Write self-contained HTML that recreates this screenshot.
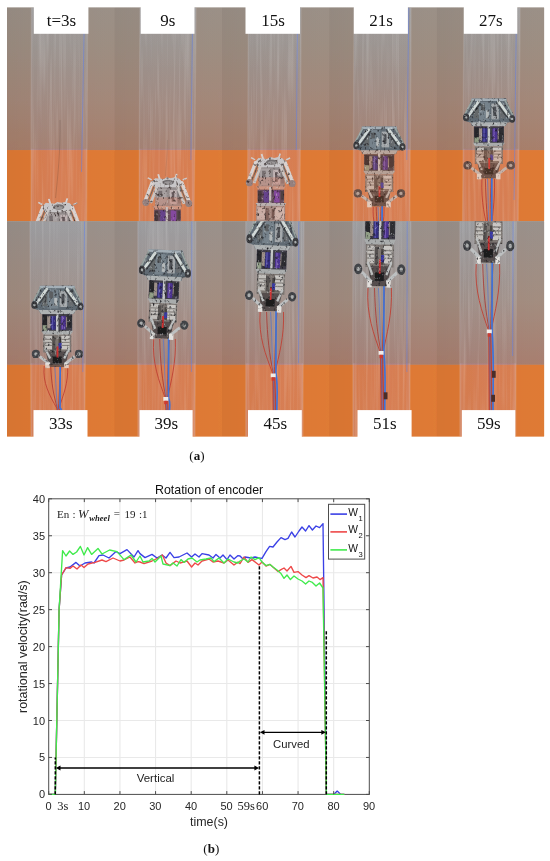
<!DOCTYPE html>
<html><head><meta charset="utf-8"><title>Figure</title>
<style>
html,body{margin:0;padding:0;background:#fff;}
svg{display:block;}
text{font-family:"Liberation Sans",sans-serif;fill:#262626;}
.lab{font-family:"Liberation Serif",serif;font-size:17px;fill:#111;}
.grid{stroke:#e9e9e9;stroke-width:1.1;}
.tk{stroke:#4d4d4d;stroke-width:1;}
.ln{fill:none;stroke-width:1.35;stroke-linejoin:round;}
.tl{font-size:11px;}
.ttl{font-size:12.4px;fill:#111;}
.axl{font-size:12.45px;}
.dsh{stroke:#000;stroke-width:1.5;stroke-dasharray:3.2 1.8;}
.ann{font-size:11.5px;fill:#222;}
.ser{font-family:"Liberation Serif",serif;font-size:12.5px;fill:#222;}
.eq{font-family:"Liberation Serif",serif;font-size:11px;fill:#222;}
.lg{font-size:10.3px;fill:#111;}
.cap{font-family:"Liberation Serif",serif;font-size:13px;fill:#111;}
</style></head>
<body>
<svg width="550" height="861" viewBox="0 0 550 861">
<defs>
<linearGradient id="bg1" x1="0" y1="0" x2="0" y2="1">
<stop offset="0" stop-color="#998e85"/><stop offset="0.26" stop-color="#9b8c80"/><stop offset="0.65" stop-color="#a28677"/><stop offset="1" stop-color="#a67d69"/></linearGradient>
<linearGradient id="bg2" x1="0" y1="0" x2="0" y2="1">
<stop offset="0" stop-color="#988f89"/><stop offset="0.12" stop-color="#9a8e87"/><stop offset="0.55" stop-color="#a18b7e"/><stop offset="0.95" stop-color="#a67e6f"/><stop offset="1" stop-color="#a77c6c"/></linearGradient>
<linearGradient id="hsh" x1="0" y1="0" x2="1" y2="0">
<stop offset="0" stop-color="#000" stop-opacity="0.035"/><stop offset="0.5" stop-color="#000" stop-opacity="0"/>
<stop offset="0.5" stop-color="#fff" stop-opacity="0"/><stop offset="1" stop-color="#fff" stop-opacity="0.02"/></linearGradient>
<linearGradient id="tubeT1" x1="0" y1="0" x2="0" y2="1">
<stop offset="0" stop-color="#a0b9d7" stop-opacity="0.24"/>
<stop offset="0.35" stop-color="#a0b9d7" stop-opacity="0.18"/>
<stop offset="0.7" stop-color="#a6b4d4" stop-opacity="0.13"/>
<stop offset="1" stop-color="#a6b4d4" stop-opacity="0.10"/></linearGradient>
<linearGradient id="tubeT2" x1="0" y1="0" x2="0" y2="1">
<stop offset="0" stop-color="#9fbad7" stop-opacity="0.26"/>
<stop offset="0.35" stop-color="#9fbad7" stop-opacity="0.19"/>
<stop offset="0.7" stop-color="#a6b4d4" stop-opacity="0.13"/>
<stop offset="1" stop-color="#a6b4d4" stop-opacity="0.10"/></linearGradient>
<linearGradient id="tubeO" x1="0" y1="0" x2="1" y2="0">
<stop offset="0" stop-color="#c8b4e0" stop-opacity="0.30"/>
<stop offset="0.08" stop-color="#b996d7" stop-opacity="0.18"/>
<stop offset="0.5" stop-color="#b996d7" stop-opacity="0.21"/>
<stop offset="0.92" stop-color="#b996d7" stop-opacity="0.18"/>
<stop offset="1" stop-color="#c8b4e0" stop-opacity="0.30"/></linearGradient>
<linearGradient id="tfade" x1="0" y1="0" x2="0" y2="1">
<stop offset="0" stop-color="#fff" stop-opacity="0.03"/><stop offset="1" stop-color="#fff" stop-opacity="0"/></linearGradient>
<filter id="soft" x="-2%" y="-2%" width="104%" height="104%"><feGaussianBlur stdDeviation="0.6"/></filter>
<filter id="tint" x="-5%" y="-5%" width="110%" height="110%" color-interpolation-filters="sRGB">
<feFlood flood-color="#e27a48" result="f"/><feComposite in="f" in2="SourceAlpha" operator="in"/></filter>
<clipPath id="oz1"><rect x="0" y="150.2" width="550" height="71.0"/></clipPath>
<clipPath id="oz2"><rect x="0" y="364.8" width="550" height="71.7"/></clipPath>
<filter id="streak" x="0" y="0" width="100%" height="100%" color-interpolation-filters="sRGB">
<feTurbulence type="fractalNoise" baseFrequency="0.38 0.010" numOctaves="2" seed="5" result="n"/>
<feColorMatrix in="n" type="matrix" values="0 0 0 0 1  0 0 0 0 1  0 0 0 0 1  2.2 0 0 0 -0.95" result="a"/>
<feComposite in="a" in2="SourceGraphic" operator="in"/>
</filter>
<filter id="mott" x="-5%" y="-5%" width="110%" height="110%" color-interpolation-filters="sRGB">
<feTurbulence type="fractalNoise" baseFrequency="0.42 0.30" numOctaves="2" seed="11" result="n"/>
<feColorMatrix in="n" type="matrix" values="0 0 0 0 0  0 0 0 0 0  0 0 0 0 0  3.0 0 0 0 -1.70" result="a1"/>
<feFlood flood-color="#17171b" result="dk"/>
<feComposite in="dk" in2="a1" operator="in" result="s1"/>
<feComposite in="s1" in2="SourceGraphic" operator="in" result="s1i"/>
<feColorMatrix in="n" type="matrix" values="0 0 0 0 0  0 0 0 0 0  0 0 0 0 0  0 3.0 0 0 -1.95" result="a2"/>
<feFlood flood-color="#cfd4d6" result="lt"/>
<feComposite in="lt" in2="a2" operator="in" result="s2"/>
<feComposite in="s2" in2="SourceGraphic" operator="in" result="s2i"/>
<feMerge><feMergeNode in="SourceGraphic"/><feMergeNode in="s1i"/><feMergeNode in="s2i"/></feMerge>
</filter>
<g id="robotB">
<polygon points="-17,0 17,0 19.5,7 25,17 25,23 18,24.5 17,27.5 -17,27.5 -18,24.5 -25,22 -25,16 -19.5,7" fill="#606b73"/>
<rect x="-17.5" y="0" width="35" height="2.4" fill="#a3aeb6"/>
<rect x="-10" y="3.5" width="11" height="19" fill="#76828b"/>
<rect x="-8" y="6" width="4" height="6" fill="#5b5f62"/>
<rect x="-3" y="12" width="3" height="8" fill="#b4b9ba"/>
<rect x="2.5" y="5" width="7.5" height="16" fill="#a4a8ab"/>
<rect x="4.3" y="8" width="3" height="9.5" fill="#4d5054"/>
<rect x="11" y="6" width="5" height="14" fill="#686c6f"/>
<rect x="-15" y="9" width="5" height="11" fill="#65696b"/>
<line x1="-10.5" y1="3.2" x2="-20.8" y2="17.8" stroke="#d2d9d7" stroke-width="2.7" stroke-linecap="round"/><line x1="-16.5" y1="1.5" x2="-23.5" y2="15" stroke="#98a3a0" stroke-width="1.6"/>
<line x1="9.6" y1="3" x2="21.2" y2="19" stroke="#d2d9d7" stroke-width="2.7" stroke-linecap="round"/><line x1="16" y1="1.5" x2="23.8" y2="16.5" stroke="#98a3a0" stroke-width="1.6"/>
<line x1="-8.3" y1="4.2" x2="-18.4" y2="18.6" stroke="#3d4144" stroke-width="1.3"/>
<line x1="7.4" y1="4" x2="18.8" y2="19.8" stroke="#3d4144" stroke-width="1.3"/>
<ellipse cx="-22.8" cy="19" rx="3.1" ry="3.8" fill="#3c3d41"/><ellipse cx="23.2" cy="20.5" rx="3.1" ry="3.8" fill="#3c3d41"/>
<circle cx="-22.8" cy="19" r="1.2" fill="#a9adad"/><circle cx="23.2" cy="20.5" r="1.2" fill="#a9adad"/>
<polygon points="-18.5,24 18.5,24 16,28 -16,28" fill="#aeb2b3"/>
<rect x="-15" y="28" width="30" height="17.5" fill="#3f3e48"/>
<rect x="-14.5" y="29" width="4.5" height="13" fill="#26262a"/>
<rect x="-10" y="30" width="3.2" height="12" fill="#9c8f88"/><rect x="-1.2" y="30" width="0" height="0"/><rect x="8.6" y="31" width="1.4" height="10" fill="#8d817b"/>
<rect x="-6.5" y="30" width="5" height="13.5" fill="#352f80"/>
<rect x="-5.5" y="30" width="1.4" height="13.5" fill="#5a53a8"/>
<rect x="3.5" y="30" width="5" height="13.5" fill="#4c3290"/>
<rect x="4.5" y="30" width="1.4" height="13.5" fill="#7458b0"/>
<rect x="10" y="29.5" width="4.5" height="12" fill="#2e2e33"/>
<rect x="-14.5" y="39" width="4.5" height="5.5" fill="#8f9c84"/>
<rect x="-1.2" y="27" width="2.4" height="42" fill="#c4c6c7"/>
<polygon points="-16,44.5 16,44.5 13.5,48.5 -13.5,48.5" fill="#a9acac"/>
<rect x="-14" y="48.5" width="28" height="17.5" fill="#7b7571"/>
<rect x="-12.5" y="49.5" width="7.5" height="13.5" fill="#c2bfbb"/>
<rect x="4" y="49.5" width="8.5" height="13.5" fill="#c9c6c2"/>
<rect x="-5" y="50.5" width="3.2" height="13" fill="#55514f"/>
<rect x="1.4" y="52" width="2.6" height="12" fill="#494543"/>
<rect x="1.4" y="56.5" width="3" height="5.5" fill="#3a3aa5"/>
<rect x="-12.5" y="52.5" width="7.5" height="1.1" fill="#87837f"/><rect x="-12.5" y="55.5" width="7.5" height="1.1" fill="#87837f"/><rect x="-12.5" y="58.5" width="7.5" height="1.1" fill="#87837f"/><rect x="4" y="52.5" width="8.5" height="1.1" fill="#87837f"/><rect x="4" y="55.5" width="8.5" height="1.1" fill="#87837f"/><rect x="4" y="58.5" width="8.5" height="1.1" fill="#87837f"/>
<polygon points="-11.5,65 11.5,65 8,80.5 -8,80.5" fill="#544e4d"/>
<line x1="-17.5" y1="70" x2="-7.5" y2="77.5" stroke="#bdc0c1" stroke-width="2.8"/>
<line x1="17.5" y1="70" x2="7.5" y2="77.5" stroke="#bdc0c1" stroke-width="2.8"/>
<line x1="-12" y1="62" x2="-7" y2="72" stroke="#bcbfbf" stroke-width="2.2"/>
<line x1="12" y1="62" x2="7" y2="72" stroke="#bcbfbf" stroke-width="2.2"/>
<circle cx="-21.3" cy="67.5" r="4.1" fill="#434448"/><circle cx="21.8" cy="67.5" r="4.1" fill="#434448"/>
<circle cx="-21.3" cy="67.5" r="1.7" fill="#a9acac"/><circle cx="21.8" cy="67.5" r="1.7" fill="#a9acac"/>
<rect x="-4.5" y="70" width="9" height="6.5" fill="#1c1c1f"/>
<rect x="-0.6" y="60" width="1.8" height="11" fill="#cf3030"/>
<rect x="-12" y="76" width="4.5" height="5.5" fill="#e2e0dd"/><rect x="7" y="76" width="4.5" height="5.5" fill="#e2e0dd"/>
</g>
<g id="robotA">
<line x1="-8.5" y1="-4.5" x2="-6.5" y2="3" stroke="#d6dde2" stroke-width="1.8"/>
<line x1="10" y1="-5" x2="8" y2="3" stroke="#d6dde2" stroke-width="1.8"/>
<line x1="-15" y1="2" x2="-19" y2="-0.5" stroke="#cfd6db" stroke-width="1.6"/>
<line x1="16" y1="2" x2="20" y2="0" stroke="#cfd6db" stroke-width="1.6"/>
<polygon points="-16,5.5 -11.5,0 -3,1 0,-1 4,0 8,-1 12.5,0.5 17,5.5 12,11.5 -11,11.5" fill="#c6d0d7"/>
<ellipse cx="1.5" cy="4.8" rx="5.6" ry="3.1" fill="#666e75"/>
<ellipse cx="1.5" cy="5.5" rx="3.9" ry="1.9" fill="#929aa1"/>
<rect x="-11.5" y="10.5" width="26" height="23" fill="#8a8e94"/>
<rect x="-10" y="12" width="10" height="19" fill="#a2a6ac"/>
<rect x="-8" y="14.5" width="3.5" height="7" fill="#6a6e74"/>
<rect x="3" y="13.5" width="7" height="16.5" fill="#bcbac0"/>
<rect x="5" y="16" width="2.6" height="11" fill="#57555d"/>
<rect x="11" y="12" width="3" height="17" fill="#73777d"/>
<line x1="-14.5" y1="5" x2="-21.5" y2="26" stroke="#d8dde0" stroke-width="3.4" stroke-linecap="round"/>
<line x1="-9.5" y1="9" x2="-16" y2="28.5" stroke="#c8cdd0" stroke-width="2.8"/>
<line x1="15" y1="5" x2="22.5" y2="27" stroke="#d8dde0" stroke-width="3.4" stroke-linecap="round"/>
<line x1="10.5" y1="9" x2="17.5" y2="29.5" stroke="#c8cdd0" stroke-width="2.8"/>
<line x1="-12" y1="7.5" x2="-18.8" y2="27" stroke="#596064" stroke-width="1"/>
<line x1="12.8" y1="7.5" x2="20" y2="28" stroke="#596064" stroke-width="1"/>
<ellipse cx="-20.8" cy="28" rx="3.5" ry="4" fill="#8d8285"/><ellipse cx="22" cy="29" rx="3.5" ry="4" fill="#8d8285"/>
<rect x="-11.5" y="22" width="26" height="11.5" fill="#d07a60" opacity="0.33"/><polygon points="-14,32 15.5,32 13.5,36 -12,36" fill="#c99888"/>
<rect x="-12.5" y="36" width="26.5" height="15.5" fill="#57475f"/>
<rect x="-6.5" y="37" width="5.5" height="13.5" fill="#573d94"/>
<rect x="4" y="37" width="5.5" height="13.5" fill="#7b46aa"/>
<rect x="-1" y="33" width="2.2" height="41" fill="#c6c6ca"/>
<rect x="-12" y="37.5" width="3.5" height="11.5" fill="#37333c"/>
<rect x="10.8" y="37.5" width="2.8" height="10" fill="#3d3943"/>
<polygon points="-14.5,51 16,51 14.5,54.5 -13,54.5" fill="#b6b6ba"/>
<rect x="-14" y="54.5" width="29" height="20" fill="#98969a"/>
<rect x="-13" y="56" width="8" height="14" fill="#c6c5c7"/>
<rect x="5" y="56" width="9" height="14" fill="#cccbce"/>
<rect x="-4.5" y="57" width="3.2" height="14" fill="#59555a"/>
<rect x="1.6" y="58" width="2.6" height="12" fill="#4f4b50"/>
<rect x="-14" y="54.5" width="29" height="20" fill="#d07a60" opacity="0.22"/>
</g>
<clipPath id="cp10"><rect x="7.0" y="7.5" width="107.7" height="213.7"/></clipPath>
<clipPath id="cp11"><rect x="114.4" y="7.5" width="107.7" height="213.7"/></clipPath>
<clipPath id="cp12"><rect x="221.8" y="7.5" width="107.7" height="213.7"/></clipPath>
<clipPath id="cp13"><rect x="329.2" y="7.5" width="107.7" height="213.7"/></clipPath>
<clipPath id="cp14"><rect x="436.6" y="7.5" width="107.7" height="213.7"/></clipPath>
<clipPath id="cp20"><rect x="7.0" y="221.2" width="107.7" height="215.3"/></clipPath>
<clipPath id="cp21"><rect x="114.4" y="221.2" width="107.7" height="215.3"/></clipPath>
<clipPath id="cp22"><rect x="221.8" y="221.2" width="107.7" height="215.3"/></clipPath>
<clipPath id="cp23"><rect x="329.2" y="221.2" width="107.7" height="215.3"/></clipPath>
<clipPath id="cp24"><rect x="436.6" y="221.2" width="107.7" height="215.3"/></clipPath>
</defs>
<rect width="550" height="861" fill="#fff"/>
<g filter="url(#soft)">
<rect x="7.0" y="7.5" width="537.0" height="142.7" fill="url(#bg1)"/>
<rect x="7.0" y="150.2" width="537.0" height="71.0" fill="#de7832"/>
<rect x="7.0" y="221.2" width="537.0" height="143.6" fill="url(#bg2)"/>
<rect x="7.0" y="364.8" width="537.0" height="71.7" fill="#de7832"/>
<g clip-path="url(#cp10)">
<rect x="7.0" y="7.5" width="107.9" height="142.7" fill="url(#bg1)"/>
<rect x="7.0" y="150.2" width="107.9" height="71.0" fill="#de7832"/>
<rect x="7.0" y="7.5" width="107.9" height="213.7" fill="url(#hsh)"/>
<polygon points="31.5,7.5 87.5,7.5 86.8,148.7 31.2,148.7" fill="url(#tubeT1)"/>
<polygon points="31.5,7.5 87.5,7.5 87.2,77.5 31.3,77.5" fill="url(#tfade)"/>
<polygon points="31.2,148.7 86.8,148.7 86.5,221.2 31.0,221.2" fill="url(#tubeO)"/>
<polygon points="32.5,7.5 86.5,7.5 85.8,148.7 32.2,148.7" fill="#fff" filter="url(#streak)" opacity="0.16"/>
<polygon points="32.2,148.7 85.8,148.7 85.5,221.2 32.0,221.2" fill="#fff" filter="url(#streak)" opacity="0.16"/>
<line x1="31.5" y1="7.5" x2="31.0" y2="221.2" stroke="#e8e8f0" stroke-opacity="0.14" stroke-width="1.4"/>
<line x1="87.5" y1="7.5" x2="86.5" y2="221.2" stroke="#e8e8f0" stroke-opacity="0.14" stroke-width="1.6"/>
<line x1="84.5" y1="7.5" x2="81.5" y2="172.0" stroke="#6480e4" stroke-opacity="0.62" stroke-width="0.9"/>
<g filter="url(#mott)"><use href="#robotA" transform="translate(57.3,202.8) rotate(0) scale(1,0.88)"/></g>
<g clip-path="url(#oz1)"><g filter="url(#tint)" opacity="0.1"><use href="#robotA" transform="translate(57.3,202.8) rotate(0) scale(1,0.88)"/></g></g>
<polygon points="31.5,7.5 87.5,7.5 86.5,221.2 31.0,221.2" fill="#e8e4e4" opacity="0.0"/>
</g>
<g clip-path="url(#cp11)">
<rect x="114.4" y="7.5" width="107.9" height="142.7" fill="url(#bg1)"/>
<rect x="114.4" y="150.2" width="107.9" height="71.0" fill="#de7832"/>
<rect x="114.4" y="7.5" width="107.9" height="213.7" fill="url(#hsh)"/>
<polygon points="140.0,7.5 196.0,7.5 194.6,148.7 139.3,148.7" fill="url(#tubeT1)"/>
<polygon points="140.0,7.5 196.0,7.5 195.3,77.5 139.7,77.5" fill="url(#tfade)"/>
<polygon points="139.3,148.7 194.6,148.7 193.9,221.2 139.0,221.2" fill="url(#tubeO)"/>
<polygon points="141.0,7.5 195.0,7.5 193.6,148.7 140.3,148.7" fill="#fff" filter="url(#streak)" opacity="0.16"/>
<polygon points="140.3,148.7 193.6,148.7 192.9,221.2 140.0,221.2" fill="#fff" filter="url(#streak)" opacity="0.16"/>
<line x1="140.0" y1="7.5" x2="139.0" y2="221.2" stroke="#e8e8f0" stroke-opacity="0.14" stroke-width="1.4"/>
<line x1="196.0" y1="7.5" x2="193.9" y2="221.2" stroke="#e8e8f0" stroke-opacity="0.14" stroke-width="1.6"/>
<line x1="192.7" y1="7.5" x2="190.9" y2="160.0" stroke="#6480e4" stroke-opacity="0.62" stroke-width="0.9"/>
<g filter="url(#mott)"><use href="#robotA" transform="translate(166.7,178.2) rotate(0) scale(1,0.87)"/></g>
<g clip-path="url(#oz1)"><g filter="url(#tint)" opacity="0.1"><use href="#robotA" transform="translate(166.7,178.2) rotate(0) scale(1,0.87)"/></g></g>
<polygon points="140.0,7.5 196.0,7.5 193.9,221.2 139.0,221.2" fill="#e8e4e4" opacity="0.0"/>
</g>
<g clip-path="url(#cp12)">
<rect x="221.8" y="7.5" width="107.9" height="142.7" fill="url(#bg1)"/>
<rect x="221.8" y="150.2" width="107.9" height="71.0" fill="#de7832"/>
<rect x="221.8" y="7.5" width="107.9" height="213.7" fill="url(#hsh)"/>
<polygon points="248.5,7.5 301.0,7.5 300.2,148.7 247.8,148.7" fill="url(#tubeT1)"/>
<polygon points="248.5,7.5 301.0,7.5 300.6,77.5 248.2,77.5" fill="url(#tfade)"/>
<polygon points="247.8,148.7 300.2,148.7 299.8,221.2 247.5,221.2" fill="url(#tubeO)"/>
<polygon points="249.5,7.5 300.0,7.5 299.2,148.7 248.8,148.7" fill="#fff" filter="url(#streak)" opacity="0.16"/>
<polygon points="248.8,148.7 299.2,148.7 298.8,221.2 248.5,221.2" fill="#fff" filter="url(#streak)" opacity="0.16"/>
<line x1="248.5" y1="7.5" x2="247.5" y2="221.2" stroke="#e8e8f0" stroke-opacity="0.14" stroke-width="1.4"/>
<line x1="301.0" y1="7.5" x2="299.8" y2="221.2" stroke="#e8e8f0" stroke-opacity="0.14" stroke-width="1.6"/>
<line x1="297.6" y1="7.5" x2="296.3" y2="150.0" stroke="#6480e4" stroke-opacity="0.62" stroke-width="0.9"/>
<g filter="url(#mott)"><use href="#robotA" transform="translate(270.1,158.0) rotate(0) scale(1,0.88)"/></g>
<g clip-path="url(#oz1)"><g filter="url(#tint)" opacity="0.1"><use href="#robotA" transform="translate(270.1,158.0) rotate(0) scale(1,0.88)"/></g></g>
<polygon points="248.5,7.5 301.0,7.5 299.8,221.2 247.5,221.2" fill="#e8e4e4" opacity="0.0"/>
</g>
<g clip-path="url(#cp13)">
<rect x="329.2" y="7.5" width="107.9" height="142.7" fill="url(#bg1)"/>
<rect x="329.2" y="150.2" width="107.9" height="71.0" fill="#de7832"/>
<rect x="329.2" y="7.5" width="107.9" height="213.7" fill="url(#hsh)"/>
<polygon points="354.0,7.5 411.0,7.5 410.1,148.7 353.5,148.7" fill="url(#tubeT1)"/>
<polygon points="354.0,7.5 411.0,7.5 410.6,77.5 353.7,77.5" fill="url(#tfade)"/>
<polygon points="353.5,148.7 410.1,148.7 409.7,221.2 353.2,221.2" fill="url(#tubeO)"/>
<polygon points="355.0,7.5 410.0,7.5 409.1,148.7 354.5,148.7" fill="#fff" filter="url(#streak)" opacity="0.16"/>
<polygon points="354.5,148.7 409.1,148.7 408.7,221.2 354.2,221.2" fill="#fff" filter="url(#streak)" opacity="0.16"/>
<line x1="354.0" y1="7.5" x2="353.2" y2="221.2" stroke="#e8e8f0" stroke-opacity="0.14" stroke-width="1.4"/>
<line x1="411.0" y1="7.5" x2="409.7" y2="221.2" stroke="#e8e8f0" stroke-opacity="0.14" stroke-width="1.6"/>
<line x1="408.8" y1="7.5" x2="406.8" y2="160.0" stroke="#6480e4" stroke-opacity="0.62" stroke-width="0.9"/>
<path d="M373.2,207.0 C372.3,220.2 375.9,230.8 379.4,240.0 L380.1,250.0" stroke="#bf4034" stroke-width="1.0" fill="none" stroke-opacity="0.9"/>
<path d="M376.2,207.0 C376.5,220.2 377.6,230.8 379.7,240.0 L380.4,250.0" stroke="#a93630" stroke-width="0.9" fill="none" stroke-opacity="0.9"/>
<path d="M384.0,207.0 C384.5,220.2 381.8,230.8 380.5,240.0 L381.4,250.0" stroke="#bf4034" stroke-width="1.0" fill="none" stroke-opacity="0.9"/>
<path d="M381.0,207.0 C380.3,220.2 380.2,230.8 380.2,240.0 L381.0,250.0" stroke="#a93630" stroke-width="0.8" fill="none" stroke-opacity="0.9"/>
<path d="M378.0,207.0 C378.8,220.2 378.5,230.8 379.9,240.0 L380.7,250.0" stroke="#5a78c8" stroke-width="0.8" fill="none" stroke-opacity="0.9"/>
<path d="M382.2,195.0 L382.0,240.0 C384.4,243.5 382.7,247.0 383.0,250.0" stroke="#3d72d8" stroke-width="1.7" fill="none"/>
<g filter="url(#mott)"><use href="#robotB" transform="translate(379.2,126.6) rotate(0) scale(1,0.99)"/></g>
<g clip-path="url(#oz1)"><g filter="url(#tint)" opacity="0.22"><use href="#robotB" transform="translate(379.2,126.6) rotate(0) scale(1,0.99)"/></g></g>
<polygon points="354.0,7.5 411.0,7.5 409.7,221.2 353.2,221.2" fill="#e8e4e4" opacity="0.0"/>
</g>
<g clip-path="url(#cp14)">
<rect x="436.6" y="7.5" width="107.9" height="142.7" fill="url(#bg1)"/>
<rect x="436.6" y="150.2" width="107.9" height="71.0" fill="#de7832"/>
<rect x="436.6" y="7.5" width="107.9" height="213.7" fill="url(#hsh)"/>
<polygon points="464.0,7.5 520.0,7.5 518.7,148.7 463.1,148.7" fill="url(#tubeT1)"/>
<polygon points="464.0,7.5 520.0,7.5 519.4,77.5 463.5,77.5" fill="url(#tfade)"/>
<polygon points="463.1,148.7 518.7,148.7 518.1,221.2 462.6,221.2" fill="url(#tubeO)"/>
<polygon points="465.0,7.5 519.0,7.5 517.7,148.7 464.1,148.7" fill="#fff" filter="url(#streak)" opacity="0.16"/>
<polygon points="464.1,148.7 517.7,148.7 517.1,221.2 463.6,221.2" fill="#fff" filter="url(#streak)" opacity="0.16"/>
<line x1="464.0" y1="7.5" x2="462.6" y2="221.2" stroke="#e8e8f0" stroke-opacity="0.14" stroke-width="1.4"/>
<line x1="520.0" y1="7.5" x2="518.1" y2="221.2" stroke="#e8e8f0" stroke-opacity="0.14" stroke-width="1.6"/>
<line x1="516.5" y1="7.5" x2="514.1" y2="200.0" stroke="#6480e4" stroke-opacity="0.62" stroke-width="0.9"/>
<path d="M481.9,179.0 C480.9,201.4 485.1,219.3 489.0,235.0 L489.7,250.0" stroke="#bf4034" stroke-width="1.0" fill="none" stroke-opacity="0.9"/>
<path d="M485.4,179.0 C485.8,201.4 487.0,219.3 489.4,235.0 L490.1,250.0" stroke="#a93630" stroke-width="0.9" fill="none" stroke-opacity="0.9"/>
<path d="M494.5,179.0 C495.1,201.4 492.0,219.3 490.3,235.0 L491.2,250.0" stroke="#bf4034" stroke-width="1.0" fill="none" stroke-opacity="0.9"/>
<path d="M491.0,179.0 C490.2,201.4 490.1,219.3 489.9,235.0 L490.8,250.0" stroke="#a93630" stroke-width="0.8" fill="none" stroke-opacity="0.9"/>
<path d="M487.5,179.0 C488.5,201.4 488.1,219.3 489.6,235.0 L490.3,250.0" stroke="#5a78c8" stroke-width="0.8" fill="none" stroke-opacity="0.9"/>
<path d="M491.9,167.0 L491.7,235.0 C494.1,240.2 492.4,245.5 492.7,250.0" stroke="#3d72d8" stroke-width="1.7" fill="none"/>
<g filter="url(#mott)"><use href="#robotB" transform="translate(488.9,98.6) rotate(0) scale(1,0.99)"/></g>
<g clip-path="url(#oz1)"><g filter="url(#tint)" opacity="0.22"><use href="#robotB" transform="translate(488.9,98.6) rotate(0) scale(1,0.99)"/></g></g>
<polygon points="464.0,7.5 520.0,7.5 518.1,221.2 462.6,221.2" fill="#e8e4e4" opacity="0.0"/>
</g>
<g clip-path="url(#cp20)">
<rect x="7.0" y="221.2" width="107.9" height="143.6" fill="url(#bg2)"/>
<rect x="7.0" y="364.8" width="107.9" height="71.7" fill="#de7832"/>
<rect x="7.0" y="221.2" width="107.9" height="215.3" fill="url(#hsh)"/>
<polygon points="30.0,221.2 86.5,221.2 85.2,363.3 30.7,363.3" fill="url(#tubeT2)"/>
<polygon points="30.0,221.2 86.5,221.2 85.8,291.2 30.3,291.2" fill="url(#tfade)"/>
<polygon points="30.7,363.3 85.2,363.3 84.5,436.5 31.0,436.5" fill="url(#tubeO)"/>
<polygon points="31.0,221.2 85.5,221.2 84.2,363.3 31.7,363.3" fill="#fff" filter="url(#streak)" opacity="0.16"/>
<polygon points="31.7,363.3 84.2,363.3 83.5,436.5 32.0,436.5" fill="#fff" filter="url(#streak)" opacity="0.16"/>
<line x1="30.0" y1="221.2" x2="31.0" y2="436.5" stroke="#e8e8f0" stroke-opacity="0.14" stroke-width="1.4"/>
<line x1="86.5" y1="221.2" x2="84.5" y2="436.5" stroke="#e8e8f0" stroke-opacity="0.14" stroke-width="1.6"/>
<line x1="84.6" y1="221.2" x2="82.8" y2="372.0" stroke="#6480e4" stroke-opacity="0.62" stroke-width="0.9"/>
<path d="M44.2,366.0 C42.2,382.8 50.1,396.2 56.7,408.0 L57.2,412.0" stroke="#bf4034" stroke-width="1.0" fill="none" stroke-opacity="0.9"/>
<path d="M50.7,366.0 C51.4,382.8 53.6,396.2 57.4,408.0 L58.0,412.0" stroke="#a93630" stroke-width="0.9" fill="none" stroke-opacity="0.9"/>
<path d="M67.6,366.0 C68.6,382.8 62.9,396.2 59.0,408.0 L60.0,412.0" stroke="#bf4034" stroke-width="1.0" fill="none" stroke-opacity="0.9"/>
<path d="M61.1,366.0 C59.5,382.8 59.3,396.2 58.4,408.0 L59.3,412.0" stroke="#a93630" stroke-width="0.8" fill="none" stroke-opacity="0.9"/>
<path d="M54.6,366.0 C56.4,382.8 55.8,396.2 57.7,408.0 L58.5,412.0" stroke="#5a78c8" stroke-width="0.8" fill="none" stroke-opacity="0.9"/>
<path d="M60.2,354.0 L60.0,408.0 C62.4,409.4 60.7,410.8 61.0,412.0" stroke="#3d72d8" stroke-width="1.7" fill="none"/>
<g filter="url(#mott)"><use href="#robotB" transform="translate(57.2,285.8) rotate(0) scale(1,1.01)"/></g>
<g clip-path="url(#oz2)"><g filter="url(#tint)" opacity="0.22"><use href="#robotB" transform="translate(57.2,285.8) rotate(0) scale(1,1.01)"/></g></g>
<polygon points="30.0,221.2 86.5,221.2 84.5,436.5 31.0,436.5" fill="#e8e4e4" opacity="0.0"/>
</g>
<g clip-path="url(#cp21)">
<rect x="114.4" y="221.2" width="107.9" height="143.6" fill="url(#bg2)"/>
<rect x="114.4" y="364.8" width="107.9" height="71.7" fill="#de7832"/>
<rect x="114.4" y="221.2" width="107.9" height="215.3" fill="url(#hsh)"/>
<polygon points="137.9,221.2 195.7,221.2 195.2,363.3 137.9,363.3" fill="url(#tubeT2)"/>
<polygon points="137.9,221.2 195.7,221.2 195.4,291.2 137.9,291.2" fill="url(#tfade)"/>
<polygon points="137.9,363.3 195.2,363.3 194.9,436.5 137.9,436.5" fill="url(#tubeO)"/>
<polygon points="138.9,221.2 194.7,221.2 194.2,363.3 138.9,363.3" fill="#fff" filter="url(#streak)" opacity="0.16"/>
<polygon points="138.9,363.3 194.2,363.3 193.9,436.5 138.9,436.5" fill="#fff" filter="url(#streak)" opacity="0.16"/>
<line x1="137.9" y1="221.2" x2="137.9" y2="436.5" stroke="#e8e8f0" stroke-opacity="0.14" stroke-width="1.4"/>
<line x1="195.7" y1="221.2" x2="194.9" y2="436.5" stroke="#e8e8f0" stroke-opacity="0.14" stroke-width="1.6"/>
<line x1="191.9" y1="221.2" x2="191.4" y2="372.0" stroke="#6480e4" stroke-opacity="0.62" stroke-width="0.9"/>
<path d="M153.7,339.0 C151.9,362.6 159.1,381.5 165.3,398.0 L165.9,412.0" stroke="#bf4034" stroke-width="1.0" fill="none" stroke-opacity="0.9"/>
<path d="M159.7,339.0 C160.3,362.6 162.4,381.5 165.9,398.0 L166.6,412.0" stroke="#a93630" stroke-width="0.9" fill="none" stroke-opacity="0.9"/>
<path d="M175.3,339.0 C176.3,362.6 171.0,381.5 167.5,398.0 L168.5,412.0" stroke="#bf4034" stroke-width="1.0" fill="none" stroke-opacity="0.9"/>
<path d="M169.3,339.0 C167.9,362.6 167.7,381.5 166.9,398.0 L167.7,412.0" stroke="#a93630" stroke-width="0.8" fill="none" stroke-opacity="0.9"/>
<path d="M163.3,339.0 C165.0,362.6 164.4,381.5 166.3,398.0 L167.0,412.0" stroke="#5a78c8" stroke-width="0.8" fill="none" stroke-opacity="0.9"/>
<path d="M168.7,327.0 L168.5,398.0 C170.9,402.9 169.2,407.8 169.5,412.0" stroke="#3d72d8" stroke-width="1.7" fill="none"/>
<rect x="163.3" y="397.0" width="5" height="3.8" fill="#f0ece8"/>
<rect x="164.2" y="400.8" width="3.2" height="3.4" fill="#cc3a32"/>
<g filter="url(#mott)"><use href="#robotB" transform="translate(165.7,250.0) rotate(2.5) scale(1,1.1)"/></g>
<g clip-path="url(#oz2)"><g filter="url(#tint)" opacity="0.22"><use href="#robotB" transform="translate(165.7,250.0) rotate(2.5) scale(1,1.1)"/></g></g>
<polygon points="137.9,221.2 195.7,221.2 194.9,436.5 137.9,436.5" fill="#e8e4e4" opacity="0.0"/>
</g>
<g clip-path="url(#cp22)">
<rect x="221.8" y="221.2" width="107.9" height="143.6" fill="url(#bg2)"/>
<rect x="221.8" y="364.8" width="107.9" height="71.7" fill="#de7832"/>
<rect x="221.8" y="221.2" width="107.9" height="215.3" fill="url(#hsh)"/>
<polygon points="245.8,221.2 303.8,221.2 303.1,363.3 245.8,363.3" fill="url(#tubeT2)"/>
<polygon points="245.8,221.2 303.8,221.2 303.5,291.2 245.8,291.2" fill="url(#tfade)"/>
<polygon points="245.8,363.3 303.1,363.3 302.8,436.5 245.8,436.5" fill="url(#tubeO)"/>
<polygon points="246.8,221.2 302.8,221.2 302.1,363.3 246.8,363.3" fill="#fff" filter="url(#streak)" opacity="0.16"/>
<polygon points="246.8,363.3 302.1,363.3 301.8,436.5 246.8,436.5" fill="#fff" filter="url(#streak)" opacity="0.16"/>
<line x1="245.8" y1="221.2" x2="245.8" y2="436.5" stroke="#e8e8f0" stroke-opacity="0.14" stroke-width="1.4"/>
<line x1="303.8" y1="221.2" x2="302.8" y2="436.5" stroke="#e8e8f0" stroke-opacity="0.14" stroke-width="1.6"/>
<line x1="298.8" y1="221.2" x2="298.6" y2="363.0" stroke="#6480e4" stroke-opacity="0.62" stroke-width="0.9"/>
<path d="M260.1,312.0 C258.2,336.4 266.0,355.9 272.6,373.0 L273.1,412.0" stroke="#bf4034" stroke-width="1.0" fill="none" stroke-opacity="0.9"/>
<path d="M266.6,312.0 C267.2,336.4 269.5,355.9 273.3,373.0 L273.9,412.0" stroke="#a93630" stroke-width="0.9" fill="none" stroke-opacity="0.9"/>
<path d="M283.5,312.0 C284.5,336.4 278.8,355.9 274.9,373.0 L275.9,412.0" stroke="#bf4034" stroke-width="1.0" fill="none" stroke-opacity="0.9"/>
<path d="M277.0,312.0 C275.4,336.4 275.2,355.9 274.3,373.0 L275.2,412.0" stroke="#a93630" stroke-width="0.8" fill="none" stroke-opacity="0.9"/>
<path d="M270.5,312.0 C272.3,336.4 271.7,355.9 273.6,373.0 L274.4,412.0" stroke="#5a78c8" stroke-width="0.8" fill="none" stroke-opacity="0.9"/>
<path d="M276.1,300.0 L275.9,373.0 C278.3,386.6 276.6,400.3 276.9,412.0" stroke="#3d72d8" stroke-width="1.7" fill="none"/>
<rect x="270.7" y="373.5" width="5" height="3.8" fill="#f0ece8"/>
<rect x="271.6" y="377.3" width="3.2" height="3.4" fill="#cc3a32"/>
<g filter="url(#mott)"><use href="#robotB" transform="translate(273.1,217.5) rotate(2.0) scale(1,1.163)"/></g>
<g clip-path="url(#oz2)"><g filter="url(#tint)" opacity="0.22"><use href="#robotB" transform="translate(273.1,217.5) rotate(2.0) scale(1,1.163)"/></g></g>
<polygon points="245.8,221.2 303.8,221.2 302.8,436.5 245.8,436.5" fill="#e8e4e4" opacity="0.0"/>
</g>
<g clip-path="url(#cp23)">
<rect x="329.2" y="221.2" width="107.9" height="143.6" fill="url(#bg2)"/>
<rect x="329.2" y="364.8" width="107.9" height="71.7" fill="#de7832"/>
<rect x="329.2" y="221.2" width="107.9" height="215.3" fill="url(#hsh)"/>
<polygon points="352.9,221.2 410.7,221.2 410.0,363.3 352.9,363.3" fill="url(#tubeT2)"/>
<polygon points="352.9,221.2 410.7,221.2 410.4,291.2 352.9,291.2" fill="url(#tfade)"/>
<polygon points="352.9,363.3 410.0,363.3 409.7,436.5 352.9,436.5" fill="url(#tubeO)"/>
<polygon points="353.9,221.2 409.7,221.2 409.0,363.3 353.9,363.3" fill="#fff" filter="url(#streak)" opacity="0.16"/>
<polygon points="353.9,363.3 409.0,363.3 408.7,436.5 353.9,436.5" fill="#fff" filter="url(#streak)" opacity="0.16"/>
<line x1="352.9" y1="221.2" x2="352.9" y2="436.5" stroke="#e8e8f0" stroke-opacity="0.14" stroke-width="1.4"/>
<line x1="410.7" y1="221.2" x2="409.7" y2="436.5" stroke="#e8e8f0" stroke-opacity="0.14" stroke-width="1.6"/>
<line x1="407.2" y1="221.2" x2="406.9" y2="372.0" stroke="#6480e4" stroke-opacity="0.62" stroke-width="0.9"/>
<path d="M368.0,288.0 C366.1,314.0 373.9,334.8 380.5,353.0 L381.0,412.0" stroke="#bf4034" stroke-width="1.0" fill="none" stroke-opacity="0.9"/>
<path d="M374.5,288.0 C375.2,314.0 377.4,334.8 381.2,353.0 L381.8,412.0" stroke="#a93630" stroke-width="0.9" fill="none" stroke-opacity="0.9"/>
<path d="M391.4,288.0 C392.4,314.0 386.7,334.8 382.8,353.0 L383.8,412.0" stroke="#bf4034" stroke-width="1.0" fill="none" stroke-opacity="0.9"/>
<path d="M384.9,288.0 C383.3,314.0 383.1,334.8 382.2,353.0 L383.1,412.0" stroke="#a93630" stroke-width="0.8" fill="none" stroke-opacity="0.9"/>
<path d="M378.4,288.0 C380.2,314.0 379.6,334.8 381.5,353.0 L382.3,412.0" stroke="#5a78c8" stroke-width="0.8" fill="none" stroke-opacity="0.9"/>
<path d="M384.0,276.0 L383.8,353.0 C386.2,373.6 384.5,394.3 384.8,412.0" stroke="#3d72d8" stroke-width="1.7" fill="none"/>
<rect x="378.6" y="351.0" width="5" height="3.8" fill="#f0ece8"/>
<rect x="379.5" y="354.8" width="3.2" height="3.4" fill="#cc3a32"/>
<rect x="383.7" y="392.3" width="3.8" height="7" fill="#4a2f2c"/>
<g filter="url(#mott)"><use href="#robotB" transform="translate(381.0,181.5) rotate(1.0) scale(1,1.3)"/></g>
<g clip-path="url(#oz2)"><g filter="url(#tint)" opacity="0.22"><use href="#robotB" transform="translate(381.0,181.5) rotate(1.0) scale(1,1.3)"/></g></g>
<polygon points="352.9,221.2 410.7,221.2 409.7,436.5 352.9,436.5" fill="#e8e4e4" opacity="0.0"/>
</g>
<g clip-path="url(#cp24)">
<rect x="436.6" y="221.2" width="107.9" height="143.6" fill="url(#bg2)"/>
<rect x="436.6" y="364.8" width="107.9" height="71.7" fill="#de7832"/>
<rect x="436.6" y="221.2" width="107.9" height="215.3" fill="url(#hsh)"/>
<polygon points="459.9,221.2 516.4,221.2 515.9,363.3 459.9,363.3" fill="url(#tubeT2)"/>
<polygon points="459.9,221.2 516.4,221.2 516.1,291.2 459.9,291.2" fill="url(#tfade)"/>
<polygon points="459.9,363.3 515.9,363.3 515.6,436.5 459.9,436.5" fill="url(#tubeO)"/>
<polygon points="460.9,221.2 515.4,221.2 514.9,363.3 460.9,363.3" fill="#fff" filter="url(#streak)" opacity="0.16"/>
<polygon points="460.9,363.3 514.9,363.3 514.6,436.5 460.9,436.5" fill="#fff" filter="url(#streak)" opacity="0.16"/>
<line x1="459.9" y1="221.2" x2="459.9" y2="436.5" stroke="#e8e8f0" stroke-opacity="0.14" stroke-width="1.4"/>
<line x1="516.4" y1="221.2" x2="515.6" y2="436.5" stroke="#e8e8f0" stroke-opacity="0.14" stroke-width="1.6"/>
<line x1="513.1" y1="221.2" x2="512.6" y2="356.0" stroke="#6480e4" stroke-opacity="0.62" stroke-width="0.9"/>
<path d="M476.2,264.0 C474.3,290.8 482.1,312.2 488.7,331.0 L489.2,412.0" stroke="#bf4034" stroke-width="1.0" fill="none" stroke-opacity="0.9"/>
<path d="M482.7,264.0 C483.4,290.8 485.6,312.2 489.4,331.0 L490.0,412.0" stroke="#a93630" stroke-width="0.9" fill="none" stroke-opacity="0.9"/>
<path d="M499.6,264.0 C500.6,290.8 494.9,312.2 491.0,331.0 L492.0,412.0" stroke="#bf4034" stroke-width="1.0" fill="none" stroke-opacity="0.9"/>
<path d="M493.1,264.0 C491.5,290.8 491.3,312.2 490.4,331.0 L491.3,412.0" stroke="#a93630" stroke-width="0.8" fill="none" stroke-opacity="0.9"/>
<path d="M486.6,264.0 C488.4,290.8 487.8,312.2 489.7,331.0 L490.5,412.0" stroke="#5a78c8" stroke-width="0.8" fill="none" stroke-opacity="0.9"/>
<path d="M492.2,252.0 L492.0,331.0 C494.4,359.4 492.7,387.7 493.0,412.0" stroke="#3d72d8" stroke-width="1.7" fill="none"/>
<rect x="486.8" y="329.5" width="5" height="3.8" fill="#f0ece8"/>
<rect x="487.7" y="333.3" width="3.2" height="3.4" fill="#cc3a32"/>
<rect x="491.9" y="370.8" width="3.8" height="7" fill="#4a2f2c"/>
<rect x="491.2" y="394.8" width="3.8" height="7" fill="#4a2f2c"/>
<g filter="url(#mott)"><use href="#robotB" transform="translate(489.2,158.0) rotate(0.5) scale(1,1.3)"/></g>
<g clip-path="url(#oz2)"><g filter="url(#tint)" opacity="0.22"><use href="#robotB" transform="translate(489.2,158.0) rotate(0.5) scale(1,1.3)"/></g></g>
<polygon points="459.9,221.2 516.4,221.2 515.6,436.5 459.9,436.5" fill="#e8e4e4" opacity="0.0"/>
</g>
<path d="M60,120 C60.5,150 58,175 55.5,198" stroke="#4a3a34" stroke-opacity="0.35" stroke-width="0.6" fill="none"/>
<path d="M167.5,140 C167.5,155 166,165 165.5,176" stroke="#4a3a34" stroke-opacity="0.22" stroke-width="0.6" fill="none"/>
</g>
<rect x="33.8" y="0" width="54.6" height="33.8" fill="#fff"/>
<text x="46.7" y="25.7" class="lab">t=3s</text>
<rect x="140.7" y="0" width="53.8" height="33.8" fill="#fff"/>
<text x="160.3" y="25.7" class="lab">9s</text>
<rect x="245.5" y="0" width="54.5" height="33.8" fill="#fff"/>
<text x="261.2" y="25.7" class="lab">15s</text>
<rect x="353.8" y="0" width="54.1" height="33.8" fill="#fff"/>
<text x="369.3" y="25.7" class="lab">21s</text>
<rect x="463.8" y="0" width="53.5" height="33.8" fill="#fff"/>
<text x="479.0" y="25.7" class="lab">27s</text>
<rect x="33.5" y="410.1" width="54.0" height="30" fill="#fff"/>
<text x="49.0" y="429.4" class="lab">33s</text>
<rect x="139.5" y="410.1" width="53.1" height="30" fill="#fff"/>
<text x="154.5" y="429.4" class="lab">39s</text>
<rect x="248.0" y="410.1" width="53.8" height="30" fill="#fff"/>
<text x="263.4" y="429.4" class="lab">45s</text>
<rect x="357.5" y="410.1" width="54.1" height="30" fill="#fff"/>
<text x="373.0" y="429.4" class="lab">51s</text>
<rect x="461.8" y="410.1" width="53.5" height="30" fill="#fff"/>
<text x="477.0" y="429.4" class="lab">59s</text>
<g>
<line x1="84.32" y1="498.8" x2="84.32" y2="794.4" class="grid"/>
<line x1="119.94" y1="498.8" x2="119.94" y2="794.4" class="grid"/>
<line x1="155.57" y1="498.8" x2="155.57" y2="794.4" class="grid"/>
<line x1="191.19" y1="498.8" x2="191.19" y2="794.4" class="grid"/>
<line x1="226.81" y1="498.8" x2="226.81" y2="794.4" class="grid"/>
<line x1="262.43" y1="498.8" x2="262.43" y2="794.4" class="grid"/>
<line x1="298.06" y1="498.8" x2="298.06" y2="794.4" class="grid"/>
<line x1="333.68" y1="498.8" x2="333.68" y2="794.4" class="grid"/>
<line x1="48.7" y1="757.45" x2="369.3" y2="757.45" class="grid"/>
<line x1="48.7" y1="720.50" x2="369.3" y2="720.50" class="grid"/>
<line x1="48.7" y1="683.55" x2="369.3" y2="683.55" class="grid"/>
<line x1="48.7" y1="646.60" x2="369.3" y2="646.60" class="grid"/>
<line x1="48.7" y1="609.65" x2="369.3" y2="609.65" class="grid"/>
<line x1="48.7" y1="572.70" x2="369.3" y2="572.70" class="grid"/>
<line x1="48.7" y1="535.75" x2="369.3" y2="535.75" class="grid"/>
<rect x="48.7" y="498.8" width="320.60" height="295.60" fill="none" stroke="#4d4d4d" stroke-width="1"/>
<polyline points="48.7,794.4 55.3,794.4 59.1,609.6 61.6,575.0 66.0,568.0 70.0,567.0 76.0,562.4 80.0,566.0 85.0,563.0 91.6,562.0 94.0,563.0 99.0,555.6 103.0,555.0 109.0,558.0 116.0,551.6 120.0,553.6 127.0,549.6 134.0,557.0 138.0,550.6 140.0,553.6 145.0,557.6 152.0,554.4 157.0,558.0 162.0,555.0 166.0,558.0 170.0,552.4 174.0,557.6 179.0,557.0 183.0,555.0 187.0,553.0 191.6,557.0 195.0,554.0 199.0,557.0 202.0,553.6 209.0,555.0 213.0,558.0 216.0,554.4 220.0,558.0 223.0,555.0 227.0,559.6 230.0,555.0 234.0,559.0 238.0,555.6 240.0,556.0 243.0,559.0 245.0,557.0 251.0,558.0 255.0,557.0 259.0,558.0 262.0,558.4 266.0,551.6 269.6,546.4 273.0,547.0 277.0,542.0 281.0,537.6 285.0,539.6 288.0,538.4 291.6,532.0 295.0,537.0 299.0,531.0 302.0,527.0 305.6,531.0 309.0,525.6 312.4,530.0 316.0,526.0 319.6,527.6 323.0,523.6 326.4,794.4 333.7,794.4 337.2,791.1 340.8,794.4 344.4,794.4" class="ln" stroke="#3a40e6"/>
<polyline points="48.7,794.4 55.3,794.4 59.1,609.6 61.6,575.0 66.0,567.6 70.0,568.4 73.0,566.0 77.0,569.0 81.0,565.0 84.0,567.6 88.0,564.0 95.0,562.4 102.0,560.0 106.0,561.6 113.0,558.0 120.0,561.0 124.0,560.0 130.0,557.0 135.0,563.0 138.0,561.6 140.0,562.0 144.0,563.6 152.0,561.0 158.0,558.0 162.4,555.0 166.0,563.0 170.0,565.6 176.0,561.0 180.0,563.0 187.0,561.0 191.6,567.0 195.0,563.0 198.0,565.0 202.0,561.0 209.0,559.0 213.0,562.0 218.0,561.0 224.0,563.0 228.0,560.0 234.0,565.0 238.0,562.0 240.0,563.6 244.0,557.0 248.0,562.4 252.0,559.6 259.0,565.0 262.0,562.0 266.0,566.0 270.0,564.4 274.0,568.0 278.0,571.6 281.0,569.6 284.0,568.0 287.0,571.0 291.0,566.4 294.0,572.4 298.0,571.6 302.0,575.0 306.0,577.6 309.0,575.6 313.0,578.0 317.0,577.0 320.0,579.6 323.0,577.6 326.4,794.4 344.4,794.4" class="ln" stroke="#ee4848"/>
<polyline points="48.7,794.4 55.3,794.4 59.1,609.6 62.6,550.6 66.0,556.0 69.6,551.0 73.0,554.4 76.6,552.0 80.4,546.4 84.0,555.0 87.6,547.6 91.6,554.4 98.0,548.4 102.0,554.0 109.6,550.0 117.0,551.6 124.0,559.6 131.0,555.0 136.0,562.0 140.0,556.0 143.0,562.0 149.0,561.0 152.0,558.4 155.0,562.0 161.0,556.0 163.0,564.0 170.0,565.6 173.0,563.0 177.0,566.0 181.0,559.6 184.0,562.4 188.0,559.0 192.0,558.0 197.0,562.0 200.0,560.0 206.0,559.0 211.0,558.0 214.0,561.6 219.0,558.0 224.0,563.0 228.0,559.0 234.0,562.0 238.0,563.0 240.0,561.0 244.0,559.0 248.0,562.0 251.0,557.0 255.0,559.6 259.0,557.6 262.0,562.0 266.0,565.6 270.0,564.4 273.0,567.0 277.0,570.0 281.0,573.6 284.0,578.4 287.0,575.0 290.4,579.6 294.0,576.0 298.0,579.0 302.0,581.0 305.6,584.0 309.0,581.0 312.4,582.4 316.0,586.0 319.6,583.0 323.0,588.0 326.4,794.4 344.4,794.4" class="ln" stroke="#40ea4c"/>
<line x1="48.70" y1="794.4" x2="48.70" y2="791.1" class="tk"/>
<line x1="48.70" y1="498.8" x2="48.70" y2="502.1" class="tk"/>
<text x="45.4" y="809.8" class="tl">0</text>
<line x1="84.32" y1="794.4" x2="84.32" y2="791.1" class="tk"/>
<line x1="84.32" y1="498.8" x2="84.32" y2="502.1" class="tk"/>
<text x="78.0" y="809.8" class="tl">10</text>
<line x1="119.94" y1="794.4" x2="119.94" y2="791.1" class="tk"/>
<line x1="119.94" y1="498.8" x2="119.94" y2="502.1" class="tk"/>
<text x="113.6" y="809.8" class="tl">20</text>
<line x1="155.57" y1="794.4" x2="155.57" y2="791.1" class="tk"/>
<line x1="155.57" y1="498.8" x2="155.57" y2="502.1" class="tk"/>
<text x="149.2" y="809.8" class="tl">30</text>
<line x1="191.19" y1="794.4" x2="191.19" y2="791.1" class="tk"/>
<line x1="191.19" y1="498.8" x2="191.19" y2="502.1" class="tk"/>
<text x="184.9" y="809.8" class="tl">40</text>
<line x1="226.81" y1="794.4" x2="226.81" y2="791.1" class="tk"/>
<line x1="226.81" y1="498.8" x2="226.81" y2="502.1" class="tk"/>
<text x="220.5" y="809.8" class="tl">50</text>
<line x1="262.43" y1="794.4" x2="262.43" y2="791.1" class="tk"/>
<line x1="262.43" y1="498.8" x2="262.43" y2="502.1" class="tk"/>
<text x="256.1" y="809.8" class="tl">60</text>
<line x1="298.06" y1="794.4" x2="298.06" y2="791.1" class="tk"/>
<line x1="298.06" y1="498.8" x2="298.06" y2="502.1" class="tk"/>
<text x="291.7" y="809.8" class="tl">70</text>
<line x1="333.68" y1="794.4" x2="333.68" y2="791.1" class="tk"/>
<line x1="333.68" y1="498.8" x2="333.68" y2="502.1" class="tk"/>
<text x="327.4" y="809.8" class="tl">80</text>
<line x1="369.30" y1="794.4" x2="369.30" y2="791.1" class="tk"/>
<line x1="369.30" y1="498.8" x2="369.30" y2="502.1" class="tk"/>
<text x="363.0" y="809.8" class="tl">90</text>
<line x1="48.7" y1="794.40" x2="52.0" y2="794.40" class="tk"/>
<line x1="369.3" y1="794.40" x2="366.0" y2="794.40" class="tk"/>
<text x="38.9" y="798.4" class="tl">0</text>
<line x1="48.7" y1="757.45" x2="52.0" y2="757.45" class="tk"/>
<line x1="369.3" y1="757.45" x2="366.0" y2="757.45" class="tk"/>
<text x="38.9" y="761.4" class="tl">5</text>
<line x1="48.7" y1="720.50" x2="52.0" y2="720.50" class="tk"/>
<line x1="369.3" y1="720.50" x2="366.0" y2="720.50" class="tk"/>
<text x="32.8" y="724.5" class="tl">10</text>
<line x1="48.7" y1="683.55" x2="52.0" y2="683.55" class="tk"/>
<line x1="369.3" y1="683.55" x2="366.0" y2="683.55" class="tk"/>
<text x="32.8" y="687.5" class="tl">15</text>
<line x1="48.7" y1="646.60" x2="52.0" y2="646.60" class="tk"/>
<line x1="369.3" y1="646.60" x2="366.0" y2="646.60" class="tk"/>
<text x="32.8" y="650.6" class="tl">20</text>
<line x1="48.7" y1="609.65" x2="52.0" y2="609.65" class="tk"/>
<line x1="369.3" y1="609.65" x2="366.0" y2="609.65" class="tk"/>
<text x="32.8" y="613.6" class="tl">25</text>
<line x1="48.7" y1="572.70" x2="52.0" y2="572.70" class="tk"/>
<line x1="369.3" y1="572.70" x2="366.0" y2="572.70" class="tk"/>
<text x="32.8" y="576.7" class="tl">30</text>
<line x1="48.7" y1="535.75" x2="52.0" y2="535.75" class="tk"/>
<line x1="369.3" y1="535.75" x2="366.0" y2="535.75" class="tk"/>
<text x="32.8" y="539.8" class="tl">35</text>
<line x1="48.7" y1="498.80" x2="52.0" y2="498.80" class="tk"/>
<line x1="369.3" y1="498.80" x2="366.0" y2="498.80" class="tk"/>
<text x="32.8" y="502.8" class="tl">40</text>
<line x1="55.3" y1="794.4" x2="55.3" y2="757.4" class="dsh"/>
<line x1="259.4" y1="794.4" x2="259.4" y2="566" class="dsh"/>
<line x1="326.3" y1="794.4" x2="326.3" y2="630.7" class="dsh"/>
<line x1="57.9" y1="768.0" x2="257.0" y2="768.0" stroke="#000" stroke-width="1.3"/><polygon points="55.9,768.0 60.5,765.6 60.5,770.4" fill="#000"/><polygon points="259.0,768.0 254.4,765.6 254.4,770.4" fill="#000"/>
<line x1="261.9" y1="732.3" x2="323.9" y2="732.3" stroke="#000" stroke-width="1.3"/><polygon points="259.9,732.3 264.5,729.9 264.5,734.6999999999999" fill="#000"/><polygon points="325.9,732.3 321.3,729.9 321.3,734.6999999999999" fill="#000"/>
<text x="136.7" y="781.9" class="ann">Vertical</text>
<text x="273.1" y="748.1" class="ann" style="font-size:11.3px">Curved</text>
<text x="57.3" y="809.6" class="ser">3s</text>
<text x="237.6" y="809.6" class="ser">59s</text>
<text x="155.0" y="494.1" class="ttl">Rotation of encoder</text>
<text x="190.0" y="825.8" class="axl">time(s)</text>
<text transform="translate(27.0,713.0) rotate(-90)" class="axl" style="font-size:12.5px">rotational velocity(rad/s)</text>
<text y="517.6" class="eq"><tspan x="57.0">En</tspan><tspan x="72.6">:</tspan><tspan x="78.0" font-style="italic" font-size="12.5">W</tspan><tspan x="89.3" y="520.6" font-style="italic" font-weight="bold" font-size="8.6">wheel</tspan><tspan x="113.7" y="517.2">=</tspan><tspan x="124.4" y="517.6">19</tspan><tspan x="139.0">:1</tspan></text>
<rect x="328.5" y="504.3" width="36.2" height="54.8" fill="#fff" stroke="#4d4d4d" stroke-width="1"/>
<line x1="330.4" y1="514.1" x2="347.0" y2="514.1" stroke="#3a40e6" stroke-width="1.6"/>
<text x="348.3" y="515.5" class="lg">W<tspan font-size="7.6" dx="0.6" dy="5">1</tspan></text>
<line x1="330.4" y1="531.9" x2="347.0" y2="531.9" stroke="#ee4848" stroke-width="1.6"/>
<text x="348.3" y="533.4" class="lg">W<tspan font-size="7.6" dx="0.6" dy="5">2</tspan></text>
<line x1="330.4" y1="549.9" x2="347.0" y2="549.9" stroke="#40ea4c" stroke-width="1.6"/>
<text x="348.3" y="551.6" class="lg">W<tspan font-size="7.6" dx="0.6" dy="5">3</tspan></text>
<text x="189.3" y="460.2" class="cap">(<tspan font-weight="bold">a</tspan>)</text>
<text x="203.3" y="853.2" class="cap">(<tspan font-weight="bold">b</tspan>)</text>
</g>
</svg>
</body></html>
